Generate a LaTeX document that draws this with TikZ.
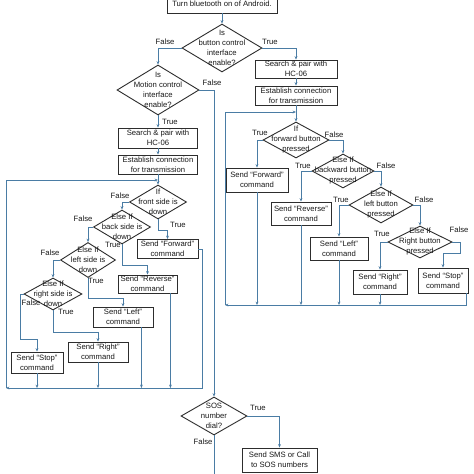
\documentclass[tikz,border=0pt]{standalone}
\usepackage{fontspec}
\setmainfont{Liberation Sans}
\usetikzlibrary{shapes.geometric,arrows.meta}
\definecolor{flowline}{RGB}{74,124,164}
\definecolor{flowedge}{RGB}{45,45,45}

\begin{document}
\begin{tikzpicture}[x=1pt, y=-1pt,
    every node/.style={font=\fontsize{7.7}{10}\selectfont, text=black!90},
    box/.style={draw=flowedge, line width=0.9pt, rectangle, align=center, inner sep=0pt},
    dia/.style={draw=flowedge, line width=0.9pt, diamond, inner sep=0pt},
    link/.style={draw=flowline, line width=0.8pt},
    arr/.style={link, -{Stealth[length=3.4pt,width=2.8pt]}},
    tag/.style={inner sep=0pt}]
        \clip (0,0) rectangle (474,474);
        \fill[white] (0,0) rectangle (474,474);

        % start and first test
        \node[box, minimum width=110, minimum height=18] (start) at (222,4) {Turn bluetooth on of Android.};
        \node[dia, minimum width=80, minimum height=48, label={[align=center]center:Is\\button control\\interface\\enable?}] (btn) at (222,48) {};
        \draw[arr] (start) -- (btn);
        \node[tag] (tBtn) at (270,42) {True};
        \node[tag] (fBtn) at (165,42) {False};

        % button control branch
        \node[box, minimum width=82, minimum height=18] (pairB) at (296,69) {Search \& pair with\\HC-06};
        \node[box, minimum width=82, minimum height=19] (connB) at (296,95.5) {Establish connection\\for transmission};
        \node[dia, minimum width=66, minimum height=36, label={[align=center]center:If\\forward button\\pressed}] (fwdB) at (296,140) {};
        \node[dia, minimum width=62, minimum height=34, label={[align=center]center:Else If\\backward button\\pressed}] (bwdB) at (343,171) {};
        \node[dia, minimum width=64, minimum height=36, label={[align=center]center:Else If\\left button\\pressed}] (lftB) at (381,205) {};
        \node[dia, minimum width=64, minimum height=32, label={[align=center]center:Else If\\Right button\\pressed}] (rgtB) at (420,242) {};
        \node[box, minimum width=62, minimum height=24] (sendFwdB) at (257,180) {Send “Forward”\\command};
        \node[box, minimum width=60, minimum height=23] (sendRevB) at (301,213.5) {Send “Reverse”\\command};
        \node[box, minimum width=58, minimum height=23] (sendLftB) at (339,248.5) {Send “Left”\\command};
        \node[box, minimum width=54, minimum height=24] (sendRgtB) at (380,282) {Send “Right”\\command};
        \node[box, minimum width=50, minimum height=25] (sendStpB) at (443,280.5) {Send “Stop”\\command};
        \coordinate (loopTopB) at (225,112);
        \coordinate (loopBotB) at (225,305);

        \draw[arr] (btn.east) -| (pairB.north);
        \draw[arr] (pairB) -- (connB);
        \draw[arr] (connB) -- (fwdB);
        \draw[arr] (fwdB.west) -| (sendFwdB.north);
        \draw[arr] (fwdB.east) -| (bwdB.north);
        \draw[arr] (bwdB.west) -| (sendRevB.north);
        \draw[arr] (bwdB.east) -| (lftB.north);
        \draw[arr] (lftB.west) -| (sendLftB.north);
        \draw[arr] (lftB.east) -| (rgtB.north);
        \draw[arr] (rgtB.west) -| (sendRgtB.north);
        \draw[arr] (rgtB.east) -- ++(8,0) -- ++(0,11) -| (sendStpB.north);
        \foreach \b in {sendFwdB, sendRevB, sendLftB, sendRgtB} {
          \draw[arr] (\b) -- (\b |- loopBotB);
          }
        \draw[arr] ([xshift=-2pt]sendStpB.south east) -- ([xshift=-2pt]sendStpB.south east |- loopBotB) -- (loopBotB);
        \draw[arr] (loopBotB) -- (loopTopB) -- (loopTopB -| fwdB.north);

        \node[tag] (tFwdB) at (260,133) {True};
        \node[tag] (fFwdB) at (334,135) {False};
        \node[tag] (tBwdB) at (303,166) {True};
        \node[tag] (fBwdB) at (386,166) {False};
        \node[tag] (tLftB) at (341,200) {True};
        \node[tag] (fLftB) at (424,200) {False};
        \node[tag] (tRgtB) at (382,234) {True};
        \node[tag] (fRgtB) at (459,230) {False};

        % motion control branch
        \node[dia, minimum width=82, minimum height=50, label={[align=center]center:Is\\Motion control\\interface\\enable?}] (motA) at (158,90) {};
        \node[box, minimum width=79, minimum height=20] (pairA) at (158,138) {Search \& pair with\\HC-06};
        \node[box, minimum width=79, minimum height=19] (connA) at (158,164.5) {Establish connection\\for transmission};
        \node[dia, minimum width=57, minimum height=34, label={[align=center]center:If\\front side is\\down}] (frontA) at (158,202) {};
        \node[dia, minimum width=57, minimum height=34, label={[align=center]center:Else If\\back side is\\down}] (backA) at (122,227) {};
        \node[dia, minimum width=55, minimum height=35, label={[align=center]center:Else If\\left side is\\down}] (leftA) at (88,260) {};
        \node[dia, minimum width=58, minimum height=32, label={[align=center]center:Else If\\right side is\\down}] (rgtA) at (53,294) {};
        \node[box, minimum width=61, minimum height=19] (sendFwdA) at (167.5,249) {Send “Forward”\\command};
        \node[box, minimum width=59, minimum height=18] (sendRevA) at (147.5,284) {Send “Reverse”\\command};
        \node[box, minimum width=60, minimum height=20] (sendLftA) at (123,317) {Send “Left”\\command};
        \node[box, minimum width=60, minimum height=20] (sendRgtA) at (98,352) {Send “Right”\\command};
        \node[box, minimum width=52, minimum height=21] (stopA) at (37,362.5) {Send “Stop”\\command};
        \coordinate (loopTopA) at (6,180);
        \coordinate (loopBotA) at (6,388);

        \draw[arr] (btn.west) -| (motA.north);
        \draw[arr] (motA) -- (pairA);
        \draw[arr] (pairA) -- (connA);
        \draw[arr] (connA) -- (frontA);
        \draw[arr] (frontA.west) -| (backA.north);
        \draw[arr] (frontA.south) -- ++(0,11) -| (sendFwdA.north);
        \draw[arr] (backA.west) -| (leftA.north);
        \draw[arr] (backA.south) -- ++(0,21) -| (sendRevA.north);
        \draw[arr] (leftA.west) -| (rgtA.north);
        \draw[arr] (leftA.south) -- ++(0,20) -| (sendLftA.north);
        \draw[arr] (rgtA.west) -- ++(-3,0) |- (stopA.north |- 0,339) -- (stopA.north);
        \draw[arr] (rgtA.south) -- ++(0,22) -| (sendRgtA.north);
        \draw[arr] (stopA) -- (stopA |- loopBotA);
        \draw[arr] (sendRgtA) -- (sendRgtA |- loopBotA);
        \draw[arr] ([xshift=-12pt]sendLftA.south east) -- ([xshift=-12pt]sendLftA.south east |- loopBotA);
        \draw[arr] ([xshift=-7pt]sendRevA.south east) -- ([xshift=-7pt]sendRevA.south east |- loopBotA);
        \draw[arr] (sendFwdA.east) -- ++(4,0) |- (loopBotA);
        \draw[arr] (loopBotA) -- (loopTopA) -- (loopTopA -| frontA.north);

        \node[tag] (tMotA) at (170,122) {True};
        \node[tag] (fMotA) at (212,83) {False};
        \node[tag] (fFrontA) at (120,196) {False};
        \node[tag] (tFrontA) at (178,225) {True};
        \node[tag] (fBackA) at (83,219) {False};
        \node[tag] (tBackA) at (113,245) {True};
        \node[tag] (fLeftA) at (50,253) {False};
        \node[tag] (tLeftA) at (96,281) {True};
        \node[tag] (fRgtA) at (31,303) {False};
        \node[tag] (tRgtA) at (66,312) {True};

        % SOS test
        \node[dia, minimum width=66, minimum height=38, label={[align=center]center:SOS\\number\\dial?}] (sos) at (214,416) {};
        \node[box, minimum width=75, minimum height=24] (sms) at (279.5,460) {Send SMS or Call\\to SOS numbers};
        \coordinate (exitS) at (214,480);
        \draw[arr] (motA.east) -| (sos.north);
        \draw[arr] (sos.east) -| (sms.north);
        \draw[link] (sos.south) -- (exitS);
        \node[tag] (tSos) at (258,408) {True};
        \node[tag] (fSos) at (203,442) {False};
      \end{tikzpicture}
\end{document}
